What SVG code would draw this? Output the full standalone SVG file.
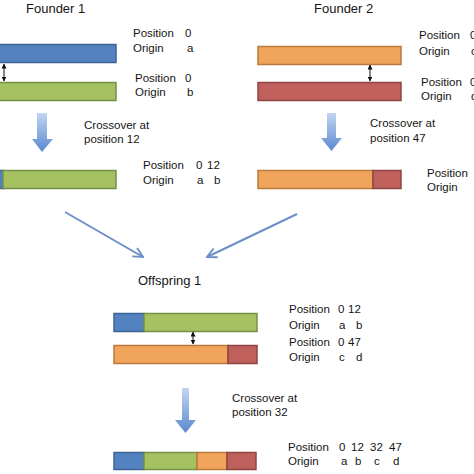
<svg xmlns="http://www.w3.org/2000/svg" width="474" height="474" viewBox="0 0 474 474">
<defs>
<linearGradient id="bg" x1="0" y1="0" x2="0" y2="1">
<stop offset="0" stop-color="#c3d6f2"/>
<stop offset="1" stop-color="#5a88cf"/>
</linearGradient>
<marker id="ah" viewBox="0 0 10 10" refX="9" refY="5" markerWidth="5" markerHeight="5" orient="auto-start-reverse">
<path d="M0,0 L10,5 L0,10 z" fill="#111"/>
</marker>
<marker id="oh" viewBox="0 0 10 10" refX="9" refY="5" markerWidth="6" markerHeight="6" orient="auto">
<path d="M1,1 L9,5 L1,9" fill="none" stroke="#6d8fc7" stroke-width="1.6"/>
</marker>
</defs>
<style>
text{font-family:"Liberation Sans",Arial,sans-serif;fill:#151515;}
.t{font-size:13px;}
.l{font-size:11.5px;}
.b{stroke-width:1.5;}
.blue{fill:#5282c0;stroke:#3e6495;}
.green{fill:#a5c160;stroke:#76904a;}
.orange{fill:#f1a45c;stroke:#b97a3c;}
.red{fill:#c0605c;stroke:#8e4441;}
.dbl{stroke:#111;stroke-width:1;fill:none;}
.conv{stroke:#6d8fc7;stroke-width:2;fill:none;}
.blk{fill:url(#bg);stroke:none;}
</style>
<rect width="474" height="474" fill="#fff"/>

<g id="founder1">
<text class="t" x="26" y="13">Founder 1</text>
<rect class="b blue" x="-2" y="44.5" width="118" height="18"/>
<rect class="b green" x="-2" y="82.5" width="118" height="18"/>
<text class="l" x="133" y="37">Position</text><text class="l" x="185" y="37">0</text>
<text class="l" x="133" y="52">Origin</text><text class="l" x="187" y="52">a</text>
<text class="l" x="135" y="82">Position</text><text class="l" x="185" y="82">0</text>
<text class="l" x="135" y="96">Origin</text><text class="l" x="187" y="96">b</text>
</g>

<g id="founder2">
<text class="t" x="314" y="13">Founder 2</text>
<rect class="b orange" x="258" y="46.5" width="143" height="18"/>
<rect class="b red" x="258" y="82.5" width="143" height="18"/>
<text class="l" x="419" y="39">Position</text><text class="l" x="470" y="39">0</text>
<text class="l" x="419" y="55">Origin</text><text class="l" x="471" y="55" fill="#999">c</text>
<text class="l" x="421" y="86">Position</text><text class="l" x="470" y="86">0</text>
<text class="l" x="421" y="100">Origin</text><text class="l" x="471" y="100" fill="#999">d</text>
</g>

<g id="recomb1">
<path class="blk" d="M37,113 H47 V139 H53 L42,152 L32,139 H37 Z"/>
<text class="l" x="84" y="129">Crossover at</text>
<text class="l" x="84" y="143">position 12</text>
<rect class="b blue" x="-2" y="170.5" width="6" height="18"/>
<rect class="b green" x="3" y="170.5" width="113" height="18"/>
<text class="l" x="143" y="169">Position</text><text class="l" x="196" y="169">0</text><text class="l" x="207" y="169">12</text>
<text class="l" x="143" y="184">Origin</text><text class="l" x="197" y="184">a</text><text class="l" x="214" y="184">b</text>
</g>

<g id="recomb2">
<path class="blk" d="M327,113 H336 V138 H342 L331.5,151 L321,138 H327 Z"/>
<text class="l" x="370" y="127">Crossover at</text>
<text class="l" x="370" y="142">position 47</text>
<rect class="b orange" x="258" y="170.5" width="115" height="18"/>
<rect class="b red" x="373" y="170.5" width="28" height="18"/>
<text class="l" x="427" y="177">Position</text>
<text class="l" x="427" y="191">Origin</text>
</g>

<g id="offspring1">
<text class="t" x="138" y="285">Offspring 1</text>
<rect class="b blue" x="114" y="313.5" width="30" height="18"/>
<rect class="b green" x="144" y="313.5" width="113" height="18"/>
<rect class="b orange" x="114" y="345.5" width="114" height="18"/>
<rect class="b red" x="228" y="345.5" width="29" height="18"/>
<text class="l" x="289" y="313">Position</text><text class="l" x="338" y="313">0</text><text class="l" x="348" y="313">12</text>
<text class="l" x="289" y="329">Origin</text><text class="l" x="339" y="329">a</text><text class="l" x="356" y="329">b</text>
<text class="l" x="289" y="346">Position</text><text class="l" x="338" y="346">0</text><text class="l" x="348" y="346">47</text>
<text class="l" x="289" y="361">Origin</text><text class="l" x="339" y="361">c</text><text class="l" x="356" y="361">d</text>
</g>

<g id="final">
<path class="blk" d="M182,388 H189 V420 H196 L185.5,433 L175,420 H182 Z"/>
<text class="l" x="232" y="402">Crossover at</text>
<text class="l" x="232" y="416">position 32</text>
<rect class="b blue" x="114" y="452.5" width="30" height="17"/>
<rect class="b green" x="144" y="452.5" width="53" height="17"/>
<rect class="b orange" x="197" y="452.5" width="30" height="17"/>
<rect class="b red" x="227" y="452.5" width="29" height="17"/>
<text class="l" x="288" y="451">Position</text><text class="l" x="339" y="451">0</text><text class="l" x="351" y="451">12</text><text class="l" x="370" y="451">32</text><text class="l" x="389" y="451">47</text>
<text class="l" x="288" y="465">Origin</text><text class="l" x="341" y="465">a</text><text class="l" x="355" y="465">b</text><text class="l" x="374" y="465">c</text><text class="l" x="393" y="465">d</text>
</g>

<g id="connectors">
<line class="dbl" x1="4" y1="64" x2="4" y2="81" marker-start="url(#ah)" marker-end="url(#ah)"/>
<line class="dbl" x1="370" y1="65" x2="370" y2="81" marker-start="url(#ah)" marker-end="url(#ah)"/>
<line class="dbl" x1="193" y1="332" x2="193" y2="344" marker-start="url(#ah)" marker-end="url(#ah)"/>
<line class="conv" x1="65" y1="212" x2="143" y2="257" marker-end="url(#oh)"/>
<line class="conv" x1="297" y1="214" x2="207" y2="257" marker-end="url(#oh)"/>
</g>
</svg>
